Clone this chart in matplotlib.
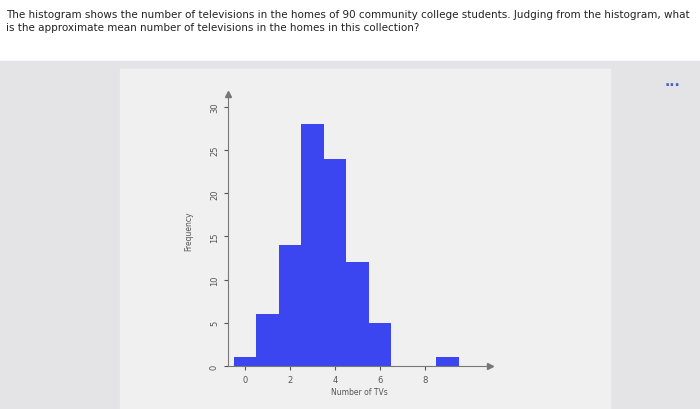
import matplotlib.pyplot as plt
from matplotlib.patches import Rectangle

tvs = [0, 1, 2, 3, 4, 5, 6, 7, 8, 9]
counts = [1, 6, 14, 28, 24, 12, 5, 0, 0, 1]
xticks = [0, 2, 4, 6, 8]
yticks = [0, 5, 10, 15, 20, 25, 30]

fig = plt.figure(figsize=(7, 4.1), dpi=100)
fig.patch.set_facecolor('white')
fig.patches.append(Rectangle((0, 0), 1, 348/410, transform=fig.transFigure, color='#e4e4e6', zorder=-2))
fig.patches.append(Rectangle((120/700, 0), 490/700, 340/410, transform=fig.transFigure, color='#f0f0f1', zorder=-1))

fig.text(0.008, 0.975, 'The histogram shows the number of televisions in the homes of 90 community college students. Judging from the histogram, what\n'
         'is the approximate mean number of televisions in the homes in this collection?',
         va='top', ha='left', fontsize=7.5, color='#222222', linespacing=1.4)
fig.text(0.96, 0.79, '...', fontsize=10, color='#4466bb', ha='center', weight='bold')

ax = fig.add_axes([228/700, 43/410, 262/700, 272/410])
ax.set_facecolor('none')
ax.bar(tvs, counts, width=1.0, color='#3b46f0', align='center')
ax.set_xlim(-0.75, 10.9)
ax.set_ylim(0, 31.5)
ax.set_xticks(xticks)
ax.set_yticks(yticks)
ax.tick_params(labelsize=6, colors='#555555', length=3)
for lbl in ax.get_yticklabels():
    lbl.set_rotation(90)
    lbl.set_va('center')
for s in ['top', 'right']:
    ax.spines[s].set_visible(False)
for s in ['left', 'bottom']:
    ax.spines[s].set_color('#777777')
ax.plot(1, 0, '>', transform=ax.transAxes, color='#777777', ms=4, clip_on=False)
ax.plot(0, 1, '^', transform=ax.transAxes, color='#777777', ms=4, clip_on=False)
ax.set_xlabel('Number of TVs', fontsize=5.5, color='#555555', labelpad=2)
ax.set_ylabel('Frequency', fontsize=5.5, color='#555555', labelpad=12)

fig.savefig('out.png', dpi=100)
